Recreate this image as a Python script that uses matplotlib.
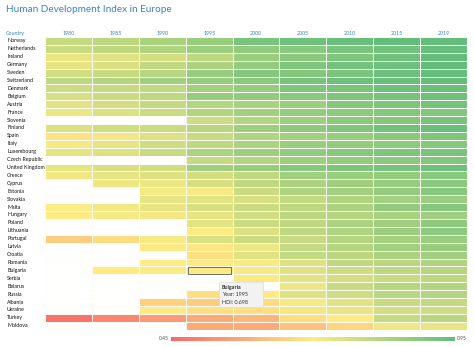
import matplotlib
matplotlib.use('Agg')
import matplotlib.pyplot as plt
import matplotlib.transforms as mtransforms
from matplotlib.colors import LinearSegmentedColormap, Normalize
from matplotlib.patches import Rectangle
import numpy as np

nan = np.nan

years = ['1980', '1985', '1990', '1995', '2000', '2005', '2010', '2015', '2019']
countries = ['Norway', 'Netherlands', 'Ireland', 'Germany', 'Sweden', 'Switzerland',
             'Denmark', 'Belgium', 'Austria', 'France', 'Slovenia', 'Finland', 'Spain',
             'Italy', 'Luxembourg', 'Czech Republic', 'United Kingdom', 'Greece', 'Cyprus',
             'Estonia', 'Slovakia', 'Malta', 'Hungary', 'Poland', 'Lithuania', 'Portugal',
             'Latvia', 'Croatia', 'Romania', 'Bulgaria', 'Serbia', 'Belarus', 'Russia',
             'Albania', 'Ukraine', 'Turkey', 'Moldova']

# one list per year, same order as countries (nan = no data)
hdi_1980 = [.793, .785, .735, .739, .776, .806, .781, .763, .743, .730, nan, .757, .685,
            .715, .740, nan, .741, .722, nan, nan, nan, .705, .700, nan, nan, .640,
            nan, nan, nan, nan, nan, nan, nan, nan, nan, .470, nan]
hdi_1985 = [.811, .804, .752, .760, .790, .820, .790, .785, .770, .755, nan, .780, .720,
            .740, .755, nan, .760, .740, .730, nan, nan, .718, .712, nan, nan, .672,
            nan, nan, nan, .700, nan, nan, nan, nan, nan, .505, nan]
hdi_1990 = [.838, .830, .770, .801, .816, .851, .799, .806, .795, .784, nan, .784, .754,
            .778, .790, nan, .775, .753, .731, .715, .738, .737, .718, nan, nan, .711,
            .707, nan, .701, .705, nan, nan, nan, .650, .705, .545, nan]
hdi_1995 = [.866, .859, .805, .835, .869, .868, .848, .871, .824, .820, .780, .816, .789,
            .805, .832, .795, .853, .770, .766, .712, .748, .766, .739, .745, .700, .757,
            .690, .680, .698, .698, nan, nan, .680, .640, .680, .575, .575]
hdi_2000 = [.913, .876, .862, .872, .899, .889, .868, .876, .838, .848, .821, .858, .825,
            .832, .860, .824, .867, .801, .802, .785, .765, .785, .776, .785, .757, .785,
            .730, .749, .709, .713, .707, nan, .700, .670, .675, .600, .578]
hdi_2005 = [.931, .891, .889, .905, .899, .915, .907, .887, .859, .871, .858, .880, .850,
            .862, .878, .856, .892, .852, .832, .830, .797, .809, .810, .803, .806, .791,
            .797, .797, .756, .752, .746, .730, .751, .713, .716, .675, .620]
hdi_2010 = [.941, .912, .904, .924, .911, .932, .912, .905, .897, .882, .885, .903, .867,
            .877, .892, .870, .904, .864, .854, .849, .830, .836, .823, .833, .830, .822,
            .818, .811, .802, .781, .769, .792, .780, .745, .734, .700, .660]
hdi_2015 = [.948, .926, .929, .934, .933, .944, .932, .920, .908, .897, .895, .928, .889,
            .881, .908, .885, .919, .870, .868, .873, .849, .874, .837, .853, .859, .843,
            .850, .835, .811, .806, .787, .815, .813, .788, .771, .790, .725]
hdi_2019 = [.957, .944, .955, .947, .945, .955, .940, .931, .922, .901, .917, .938, .904,
            .892, .916, .900, .932, .888, .887, .892, .860, .895, .854, .880, .882, .864,
            .866, .851, .828, .816, .806, .823, .824, .795, .779, .810, .735]

hdi = np.array([hdi_1980, hdi_1985, hdi_1990, hdi_1995, hdi_2000,
                hdi_2005, hdi_2010, hdi_2015, hdi_2019]).T
hdi = np.ma.masked_invalid(hdi)

cmap = LinearSegmentedColormap.from_list('hdi', [(0, '#F8696B'), (0.5, '#FFEB84'), (1, '#63BE7B')])
norm = Normalize(vmin=0.45, vmax=0.95)

W, H = 474, 347
fig = plt.figure(figsize=(W / 100, H / 100), dpi=100)

# heatmap area in pixels
left, right, top, bottom = 45, 467, 37, 329.7
ax = fig.add_axes([left / W, 1 - bottom / H, (right - left) / W, (bottom - top) / H])
ax.pcolormesh(np.arange(len(years) + 1), np.arange(len(countries) + 1), hdi,
              cmap=cmap, norm=norm, edgecolors='#fdfdf5', linewidth=0.6)
ax.set_xlim(0, len(years))
ax.set_ylim(len(countries), 0)
ax.axis('off')

blue = '#3a84c6'
fig.text(6 / W, 1 - 10 / H, 'Human Development Index in Europe', color=blue,
         fontsize=7.2, family='Lato', va='center', ha='left')

trans = mtransforms.blended_transform_factory(fig.transFigure, ax.transData)
ax.text(6 / W, -0.5, 'Country', transform=trans, color=blue, fontsize=3.8,
        family='Lato', va='center', ha='left')
for j, yr in enumerate(years):
    ax.text(j + 0.5, -0.5, yr, color=blue, fontsize=3.8, family='Lato',
            va='center', ha='center', clip_on=False)
for i, name in enumerate(countries):
    ax.text(7 / W, i + 0.5, name, transform=trans, color='#111111', fontsize=3.8,
            family='Lato', va='center', ha='left')

# hovered cell: Bulgaria 1995
bi = countries.index('Bulgaria')
bj = years.index('1995')
ax.add_patch(Rectangle((bj + 0.04, bi + 0.1), 0.92, 0.8, fill=False,
                       edgecolor='#4f5f4f', linewidth=0.6))

# tooltip
fig.patches.append(Rectangle((219 / W, 1 - 307 / H), 44 / W, 25 / H,
                             transform=fig.transFigure, facecolor='#f2f2f2',
                             edgecolor='#dcdcdc', linewidth=0.5))
fig.text(222 / W, 1 - 287 / H, 'Bulgaria', fontsize=3.9, family='Lato',
         weight='bold', color='#333333', va='center')
fig.text(222 / W, 1 - 294.5 / H, 'Year: 1995', fontsize=3.9, family='Lato',
         color='#333333', va='center')
fig.text(222 / W, 1 - 302 / H, 'HDI: %.3f' % hdi[bi, bj], fontsize=3.9, family='Lato',
         color='#333333', va='center')

# colour legend
cax = fig.add_axes([171 / W, 1 - 341 / H, 284 / W, 4 / H])
cax.imshow(np.linspace(0, 1, 256)[None, :], aspect='auto', cmap=cmap)
cax.axis('off')
fig.text(169 / W, 1 - 339 / H, '0.45', fontsize=3.6, family='Lato', color='#555555',
         va='center', ha='right')
fig.text(457 / W, 1 - 339 / H, '0.95', fontsize=3.6, family='Lato', color='#555555',
         va='center', ha='left')

fig.savefig('out.png', dpi=100)
